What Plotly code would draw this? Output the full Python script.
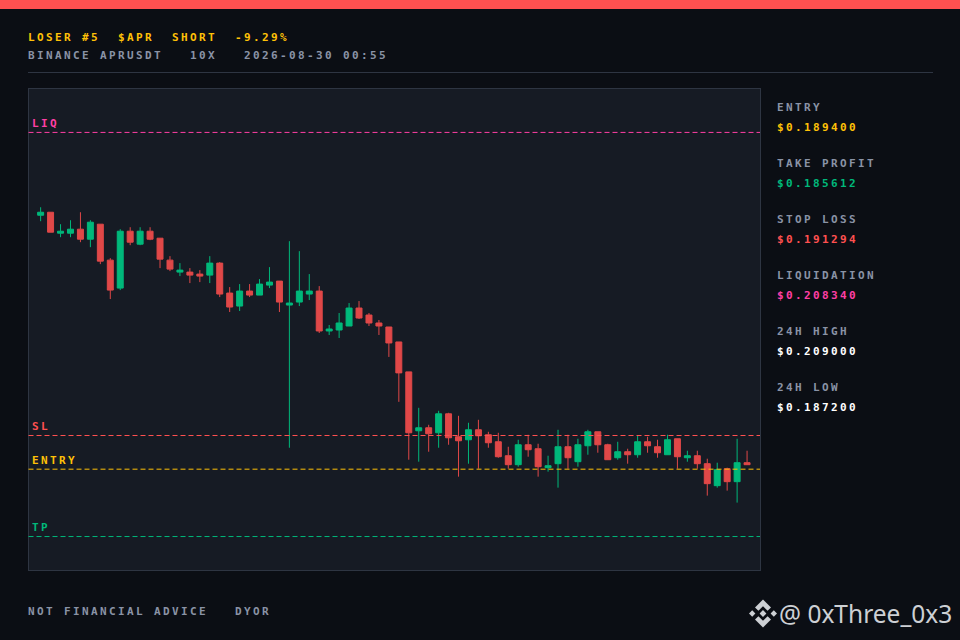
import plotly.graph_objects as go

W, H = 960, 640

# precos, um candle por posicao
opens = [.203682, .203851, .202672, .202672, .202897, .202335, .203178, .201157, .199585, .202784, .202055, .202784,
         .202391, .201157, .200484, .200484, .200372, .200315, .200989, .199305, .198575, .199417, .199192, .199753,
         .199978, .198631, .198800, .199249, .199417, .197172, .197228, .197453, .198463, .198070, .197622, .197397,
         .196555, .194872, .191560, .191729, .191448, .192515, .191223, .191055, .191616, .191335, .190943, .190157,
         .189652, .190774, .190550, .189484, .189709, .190662, .189821, .190718, .191504, .190774, .190045, .190382,
         .190213, .190943, .190662, .190213, .191111, .190045, .190157, .189709, .188473, .189428, .188698, .189765]
highs = [.204131, .203851, .203178, .203402, .203851, .203402, .203178, .201269, .202897, .203009, .203009, .203009,
         .202391, .201381, .200989, .200708, .200596, .201381, .201045, .199641, .199810, .199810, .200091, .200764,
         .199978, .202223, .201662, .200372, .199697, .197509, .198183, .198744, .198856, .198183, .197790, .197397,
         .196555, .194872, .192851, .191897, .192683, .192571, .192402, .192010, .192178, .191504, .191448, .190662,
         .191055, .191335, .190831, .190157, .191616, .191335, .191111, .191616, .191504, .190831, .190943, .190550,
         .191279, .191223, .191055, .191335, .191111, .190438, .190438, .189989, .189765, .189484, .191111, .190438]
lows = [.203346, .202728, .202447, .202447, .202167, .201886, .200933, .198968, .199473, .201998, .201998, .202279,
        .200708, .200540, .200259, .199866, .199922, .199866, .199080, .198239, .198295, .199080, .199192, .199585,
        .198239, .190606, .198575, .198912, .197060, .196948, .196779, .197453, .197846, .197453, .196948, .195713,
        .193188, .189933, .189821, .190382, .190606, .190774, .188979, .189709, .189428, .190606, .190045, .189428,
        .189540, .190101, .188979, .189260, .188361, .189428, .189540, .190213, .190326, .189933, .189933, .189709,
        .190045, .190326, .190045, .190213, .189428, .189821, .189428, .187912, .188361, .188193, .187520, .189652]
closes = [.203851, .202728, .202784, .202897, .202335, .203290, .201101, .199473, .202784, .202167, .202784, .202335,
          .201213, .200652, .200596, .200315, .200259, .200989, .199249, .198519, .199417, .199192, .199810, .199922,
          .198800, .198744, .199417, .199417, .197172, .197284, .197622, .198463, .197902, .197622, .197453, .196499,
          .194816, .191448, .191729, .191392, .192515, .191167, .190999, .191616, .191279, .190887, .190101, .189652,
          .190774, .190494, .189540, .189596, .190662, .190045, .190774, .191504, .190774, .189933, .190382, .190213,
          .190943, .190718, .190326, .191055, .190101, .190157, .189709, .188586, .189372, .188698, .189765, .189652]
candle_x = list(range(len(opens)))

level_names = ['LIQ', 'SL', 'ENTRY', 'TP']
level_prices = [0.208340, 0.191294, 0.189400, 0.185612]
level_colors = ['#ff3fa4', '#ff5050', '#ffc107', '#00b87a']

side_labels = ['ENTRY', 'TAKE PROFIT', 'STOP LOSS', 'LIQUIDATION', '24H HIGH', '24H LOW']
side_values = ['$0.189400', '$0.185612', '$0.191294', '$0.208340', '$0.209000', '$0.187200']
side_colors = ['#ffc107', '#00b87a', '#ff5050', '#ff3fa4', '#ffffff', '#ffffff']

BG = '#0b0e14'
PANEL = '#161b24'
BORDER = '#2e3542'
GRAY = '#8a93a6'
MONO = 'DejaVu Sans Mono'


def px_x(x):
    return x / W


def px_y(y):
    return 1 - y / H


def label(x, y, text, color, size=11):
    fig.add_annotation(x=px_x(x), y=px_y(y), xref='paper', yref='paper', text=text,
                       xanchor='left', yanchor='middle', align='left', showarrow=False,
                       borderpad=0, borderwidth=0,
                       font=dict(family=MONO, size=size, color=color, weight='bold'))


fig = go.Figure(go.Candlestick(
    x=candle_x, open=opens, high=highs, low=lows, close=closes,
    increasing=dict(line=dict(color='#00b87a', width=1), fillcolor='#00b87a'),
    decreasing=dict(line=dict(color='#e04848', width=1), fillcolor='#e04848'),
    showlegend=False,
))

fig.update_layout(
    width=W, height=H, margin=dict(l=0, r=0, t=0, b=0),
    paper_bgcolor=BG, plot_bgcolor=PANEL, showlegend=False, boxgap=0.2, boxgroupgap=0.25,
    xaxis=dict(domain=[px_x(28.5), px_x(760)], range=[-1.22, 72.3], rangeslider=dict(visible=False),
               showgrid=False, zeroline=False, showticklabels=False, ticks='',
               showline=True, mirror=True, linecolor=BORDER, linewidth=1),
    yaxis=dict(domain=[px_y(570), px_y(88.5)], range=[0.18373, 0.21081],
               showgrid=False, zeroline=False, showticklabels=False, ticks='',
               showline=True, mirror=True, linecolor=BORDER, linewidth=1),
)

# linhas de preco
for name, price, color in zip(level_names, level_prices, level_colors):
    fig.add_shape(type='line', xref='x domain', yref='y', x0=0, x1=1, y0=price, y1=price,
                  line=dict(color=color, width=1, dash='5px,3px'))

label(32, 123.5, 'LIQ', level_colors[0])
label(32, 426.5, 'SL', level_colors[1])
label(32, 460.5, 'ENTRY', level_colors[2])
label(32, 527.5, 'TP', level_colors[3])

# faixa do topo e divisor
fig.add_shape(type='rect', xref='paper', yref='paper', x0=0, x1=1, y0=px_y(9), y1=1,
              fillcolor='#ff5050', line=dict(width=0))
fig.add_shape(type='line', xref='paper', yref='paper', x0=px_x(28), x1=px_x(933), y0=px_y(72.5), y1=px_y(72.5),
              line=dict(color=BORDER, width=1))

label(28, 37.5, 'LOSER #5  $APR  SHORT  -9.29%', '#ffc107')
label(28, 55.5, 'BINANCE APRUSDT   10X   2026-08-30 00:55', GRAY)
label(28, 611.5, 'NOT FINANCIAL ADVICE   DYOR', GRAY)

for i, (lab, val, col) in enumerate(zip(side_labels, side_values, side_colors)):
    label(777, 107.5 + 56 * i, lab, GRAY)
    label(777, 127.5 + 56 * i, val, col)


# logo binance
def poly(points, cx=763, cy=613.5):
    path = 'M' + ' L'.join(f'{px_x(cx + a)},{px_y(cy + b)}' for a, b in points) + ' Z'
    fig.add_shape(type='path', xref='paper', yref='paper', path=path,
                  fillcolor='#cdd0d4', line=dict(width=0))


poly([(0, -14), (8, -6), (4.6, -2.8), (0, -7.2), (-4.6, -2.8), (-8, -6)])
poly([(0, 14), (8, 6), (4.6, 2.8), (0, 7.2), (-4.6, 2.8), (-8, 6)])
poly([(-10.8, -3.2), (-7.6, 0), (-10.8, 3.2), (-14, 0)])
poly([(10.8, -3.2), (14, 0), (10.8, 3.2), (7.6, 0)])
poly([(0, -3.4), (3.4, 0), (0, 3.4), (-3.4, 0)])

fig.add_annotation(x=px_x(777), y=px_y(613.5), xref='paper', yref='paper', text='@ 0xThree_0x3',
                   xanchor='left', yanchor='middle', align='left', showarrow=False,
                   font=dict(family='Noto Sans', size=24.5, color='#cdd0d4'))

# espacamento de letras da fonte pixelada
post = """
document.body.style.margin = '0';
document.querySelectorAll('.annotation-text').forEach(function (t) {
  t.style.whiteSpace = 'pre';
  if (t.textContent.indexOf('0xThree') < 0) { t.style.letterSpacing = '2.38px'; }
});
"""
fig.write_html("out.html", post_script=post, config=dict(displayModeBar=False))
